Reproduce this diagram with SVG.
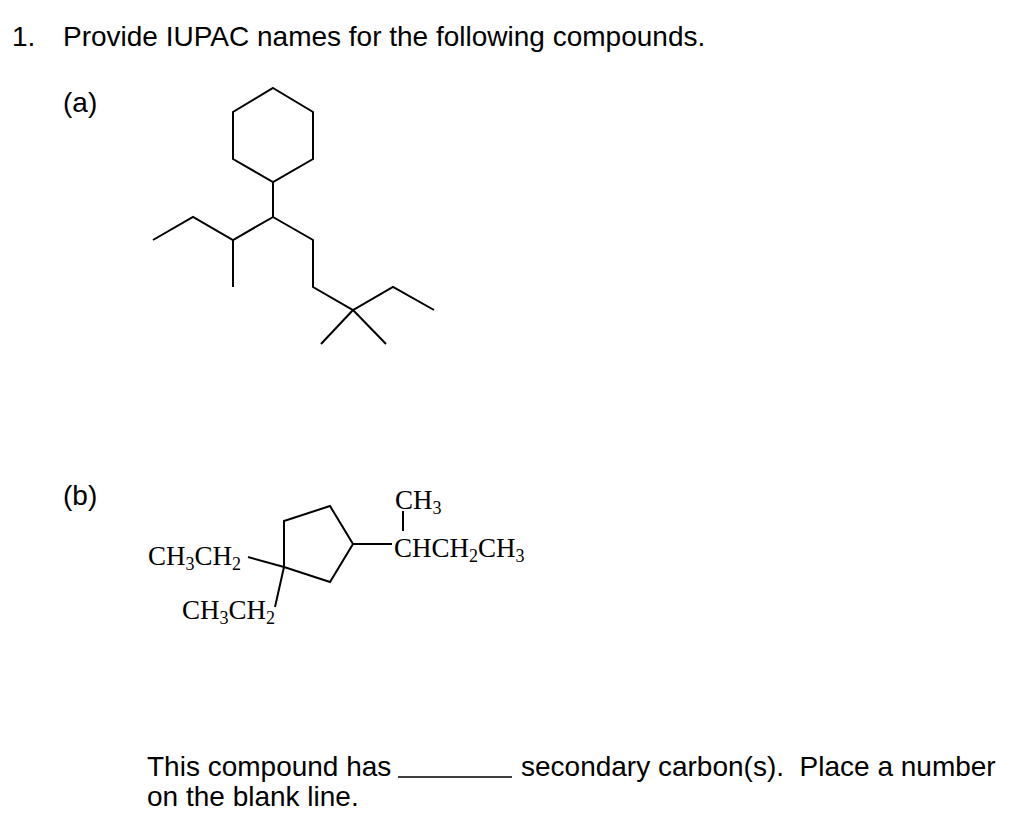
<svg xmlns="http://www.w3.org/2000/svg" width="1024" height="833" viewBox="0 0 1024 833">
<style>
.t{font-family:"Liberation Sans",Arial,sans-serif;font-size:28px;fill:#000}
.c{font-family:"Liberation Serif","Times New Roman",serif;font-size:27px;fill:#000}
.s{font-size:18px}
.b{fill:none;stroke:#000;stroke-width:2;stroke-linejoin:miter}
</style>
<rect width="1024" height="833" fill="#fff"/>
<text class="t" x="12" y="46">1.</text>
<text class="t" x="63" y="46">Provide IUPAC names for the following compounds.</text>
<text class="t" x="63" y="112">(a)</text>
<text class="t" x="63" y="505">(b)</text>
<g id="compound-a">
<polygon class="b" points="273,88 313,112 313,159 273,182 233,159 233,112"/>
<polyline class="b" points="273,182 273,217 233,240 193,217 153,240"/>
<line class="b" x1="233" y1="240" x2="233" y2="287"/>
<polyline class="b" points="273,217 313,240 313,287 353,310 393,287 434,310"/>
<line class="b" x1="353" y1="310" x2="321" y2="344"/>
<line class="b" x1="353" y1="310" x2="386" y2="344"/>
</g>
<g id="compound-b">
<polygon class="b" points="284,521 330,506 353,544 330,582 284,567"/>
<line class="b" x1="284" y1="567" x2="248" y2="557"/>
<line class="b" x1="284" y1="567" x2="275" y2="607"/>
<line class="b" x1="353" y1="544" x2="392" y2="544"/>
<line class="b" x1="403" y1="511" x2="403" y2="531"/>
<text class="c" x="395" y="509">CH<tspan class="s" dy="5">3</tspan></text>
<text class="c" x="394" y="557">CHCH<tspan class="s" dy="5">2</tspan><tspan dy="-5">CH</tspan><tspan class="s" dy="5">3</tspan></text>
<text class="c" x="148" y="565">CH<tspan class="s" dy="5">3</tspan><tspan dy="-5">CH</tspan><tspan class="s" dy="5">2</tspan></text>
<text class="c" x="182" y="619">CH<tspan class="s" dy="5">3</tspan><tspan dy="-5">CH</tspan><tspan class="s" dy="5">2</tspan></text>
</g>
<text class="t" x="147" y="776">This compound has</text>
<line x1="398" y1="777" x2="512" y2="777" stroke="#000" stroke-width="1.5"/>
<text class="t" x="521" y="776" xml:space="preserve">secondary carbon(s).  Place a number</text>
<text class="t" x="147" y="806">on the blank line.</text>
</svg>
